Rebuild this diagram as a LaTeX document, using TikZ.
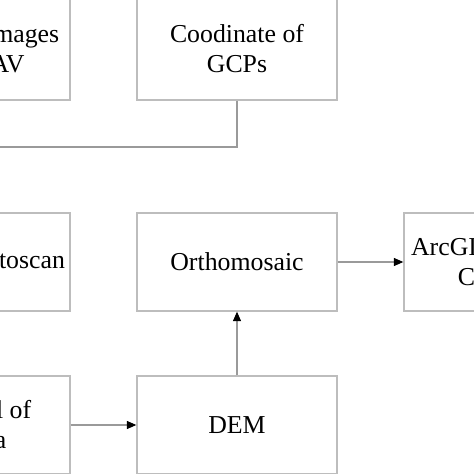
\documentclass[tikz,border=0pt]{standalone}
\usepackage{fontspec}
\setmainfont{Liberation Serif}
\usetikzlibrary{arrows.meta}
\definecolor{boxgray}{HTML}{BDBDBD}
\definecolor{linegray}{HTML}{9A9A9A}
\tikzset{
  box/.style={draw=boxgray, line width=1.3pt, fill=white, rectangle,
    minimum width=200pt, minimum height=98pt, inner sep=0pt,
    align=center, font=\fontsize{25.8}{30}\selectfont},
  tallbox/.style={box, minimum height=102pt},
  link/.style={draw=linegray, line width=1.1pt},
  arr/.style={link, -{Triangle[length=9.5pt,width=8pt,color=black,fill=black]}}
}
\begin{document}
\begin{tikzpicture}[x=1pt,y=-1pt]
\useasboundingbox (0,0) rectangle (474,474);
\clip (0,0) rectangle (474,474);
\fill[white] (0,0) rectangle (474,474);
\node[tallbox] (img) at (-30,49) {Collected images\\from UAV};
\node[tallbox] (gcp) at (237,49) {Coodinate of\\GCPs};
\node[box] (scan) at (-30,262) {Agisoft Photoscan};
\node[box] (ortho) at (237,262) {Orthomosaic};
\node[box] (arc) at (504,262) {ArcGIS Software\hspace*{6pt}\\\hspace*{5pt}Calculate};
\node[box] (model) at (-30,425) {3D model of\hspace*{8pt}\\the area\hspace*{8pt}};
\node[box] (dem) at (237,425) {DEM};
\coordinate (join) at (-30,147);
\draw[link] (gcp.south) |- (join);
\draw[arr] (join) -- (scan.north);
\draw[arr] (model.east) -- (dem.west);
\draw[arr] (dem.north) -- (ortho.south);
\draw[arr] (ortho.east) -- (arc.west);
\end{tikzpicture}
\end{document}
